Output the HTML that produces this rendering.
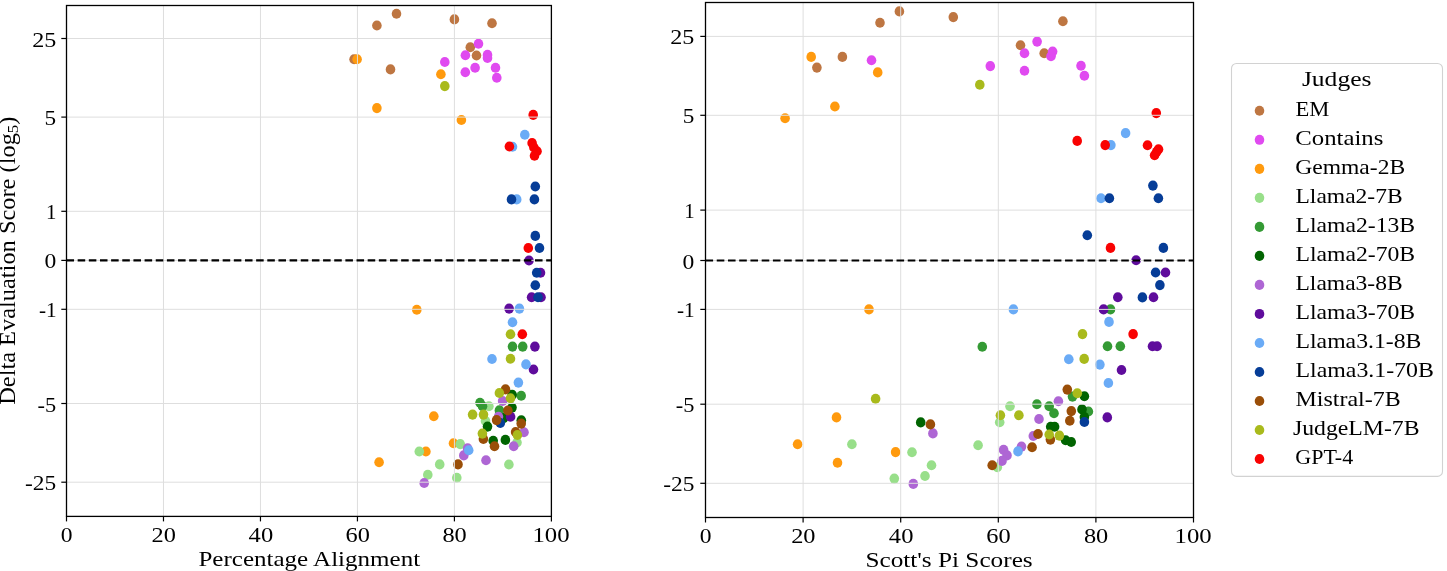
<!DOCTYPE html><html><head><meta charset="utf-8"><style>html,body{margin:0;padding:0;background:#fff;overflow:hidden}svg{will-change:transform}</style></head><body><svg width="1447" height="571" viewBox="0 0 1447 571" style="display:block">
<rect width="1447" height="571" fill="#fff"/>
<ellipse cx="396.5" cy="13.8" rx="4.8" ry="5.05" fill="#be7642"/>
<ellipse cx="376.9" cy="25.5" rx="4.8" ry="5.05" fill="#be7642"/>
<ellipse cx="454.4" cy="19.4" rx="4.8" ry="5.05" fill="#be7642"/>
<ellipse cx="492" cy="23.2" rx="4.8" ry="5.05" fill="#be7642"/>
<ellipse cx="470.3" cy="47.3" rx="4.8" ry="5.05" fill="#be7642"/>
<ellipse cx="476.5" cy="55.5" rx="4.8" ry="5.05" fill="#be7642"/>
<ellipse cx="390.5" cy="69.4" rx="4.8" ry="5.05" fill="#be7642"/>
<ellipse cx="354.1" cy="59.2" rx="4.8" ry="5.05" fill="#be7642"/>
<ellipse cx="478.5" cy="43.8" rx="4.8" ry="5.05" fill="#e04af0"/>
<ellipse cx="465.4" cy="55.2" rx="4.8" ry="5.05" fill="#e04af0"/>
<ellipse cx="487.5" cy="54.9" rx="4.8" ry="5.05" fill="#e04af0"/>
<ellipse cx="487.5" cy="58.0" rx="4.8" ry="5.05" fill="#e04af0"/>
<ellipse cx="444.8" cy="62" rx="4.8" ry="5.05" fill="#e04af0"/>
<ellipse cx="475.1" cy="67.8" rx="4.8" ry="5.05" fill="#e04af0"/>
<ellipse cx="495.5" cy="67.8" rx="4.8" ry="5.05" fill="#e04af0"/>
<ellipse cx="465.3" cy="72.3" rx="4.8" ry="5.05" fill="#e04af0"/>
<ellipse cx="496.8" cy="77.8" rx="4.8" ry="5.05" fill="#e04af0"/>
<ellipse cx="357.1" cy="59.2" rx="4.8" ry="5.05" fill="#ff9a0e"/>
<ellipse cx="440.9" cy="74.3" rx="4.8" ry="5.05" fill="#ff9a0e"/>
<ellipse cx="376.9" cy="108.1" rx="4.8" ry="5.05" fill="#ff9a0e"/>
<ellipse cx="461.4" cy="120" rx="4.8" ry="5.05" fill="#ff9a0e"/>
<ellipse cx="416.8" cy="309.7" rx="4.8" ry="5.05" fill="#ff9a0e"/>
<ellipse cx="433.8" cy="416.3" rx="4.8" ry="5.05" fill="#ff9a0e"/>
<ellipse cx="453.5" cy="443.2" rx="4.8" ry="5.05" fill="#ff9a0e"/>
<ellipse cx="425.9" cy="451.5" rx="4.8" ry="5.05" fill="#ff9a0e"/>
<ellipse cx="379.1" cy="462.2" rx="4.8" ry="5.05" fill="#ff9a0e"/>
<ellipse cx="488.9" cy="406.2" rx="4.8" ry="5.05" fill="#98df8a"/>
<ellipse cx="485.5" cy="421" rx="4.8" ry="5.05" fill="#98df8a"/>
<ellipse cx="517" cy="442.5" rx="4.8" ry="5.05" fill="#98df8a"/>
<ellipse cx="460.2" cy="444.1" rx="4.8" ry="5.05" fill="#98df8a"/>
<ellipse cx="419.3" cy="451.5" rx="4.8" ry="5.05" fill="#98df8a"/>
<ellipse cx="439.7" cy="464.4" rx="4.8" ry="5.05" fill="#98df8a"/>
<ellipse cx="508.9" cy="464.5" rx="4.8" ry="5.05" fill="#98df8a"/>
<ellipse cx="427.8" cy="474.7" rx="4.8" ry="5.05" fill="#98df8a"/>
<ellipse cx="456.8" cy="477.8" rx="4.8" ry="5.05" fill="#98df8a"/>
<ellipse cx="512.5" cy="346.6" rx="4.8" ry="5.05" fill="#349a34"/>
<ellipse cx="522.7" cy="346.6" rx="4.8" ry="5.05" fill="#349a34"/>
<ellipse cx="521.2" cy="395.8" rx="4.8" ry="5.05" fill="#349a34"/>
<ellipse cx="480" cy="402.7" rx="4.8" ry="5.05" fill="#349a34"/>
<ellipse cx="482.5" cy="406.2" rx="4.8" ry="5.05" fill="#349a34"/>
<ellipse cx="499.4" cy="410.4" rx="4.8" ry="5.05" fill="#349a34"/>
<ellipse cx="512.2" cy="394.7" rx="4.8" ry="5.05" fill="#016401"/>
<ellipse cx="512" cy="407.6" rx="4.8" ry="5.05" fill="#016401"/>
<ellipse cx="503.6" cy="418.1" rx="4.8" ry="5.05" fill="#016401"/>
<ellipse cx="521.3" cy="420.2" rx="4.8" ry="5.05" fill="#016401"/>
<ellipse cx="487.5" cy="426.6" rx="4.8" ry="5.05" fill="#016401"/>
<ellipse cx="505.4" cy="439.9" rx="4.8" ry="5.05" fill="#016401"/>
<ellipse cx="493.2" cy="440.8" rx="4.8" ry="5.05" fill="#016401"/>
<ellipse cx="502.6" cy="401" rx="4.8" ry="5.05" fill="#ae66d4"/>
<ellipse cx="498.5" cy="416.8" rx="4.8" ry="5.05" fill="#ae66d4"/>
<ellipse cx="524" cy="432.2" rx="4.8" ry="5.05" fill="#ae66d4"/>
<ellipse cx="513.7" cy="446.2" rx="4.8" ry="5.05" fill="#ae66d4"/>
<ellipse cx="467.6" cy="448.4" rx="4.8" ry="5.05" fill="#ae66d4"/>
<ellipse cx="463.8" cy="455.4" rx="4.8" ry="5.05" fill="#ae66d4"/>
<ellipse cx="486" cy="460.2" rx="4.8" ry="5.05" fill="#ae66d4"/>
<ellipse cx="424.2" cy="483" rx="4.8" ry="5.05" fill="#ae66d4"/>
<ellipse cx="529" cy="260.5" rx="4.8" ry="5.05" fill="#5f0c9c"/>
<ellipse cx="540.5" cy="272.7" rx="4.8" ry="5.05" fill="#5f0c9c"/>
<ellipse cx="541" cy="297.2" rx="4.8" ry="5.05" fill="#5f0c9c"/>
<ellipse cx="531.6" cy="297.2" rx="4.8" ry="5.05" fill="#5f0c9c"/>
<ellipse cx="509.1" cy="308.6" rx="4.8" ry="5.05" fill="#5f0c9c"/>
<ellipse cx="534.9" cy="346.6" rx="4.8" ry="5.05" fill="#5f0c9c"/>
<ellipse cx="533.5" cy="369.5" rx="4.8" ry="5.05" fill="#5f0c9c"/>
<ellipse cx="510.6" cy="416.7" rx="4.8" ry="5.05" fill="#5f0c9c"/>
<ellipse cx="524.8" cy="134.8" rx="4.8" ry="5.05" fill="#6aabf6"/>
<ellipse cx="512.5" cy="146.7" rx="4.8" ry="5.05" fill="#6aabf6"/>
<ellipse cx="516.7" cy="199.4" rx="4.8" ry="5.05" fill="#6aabf6"/>
<ellipse cx="519.4" cy="308.6" rx="4.8" ry="5.05" fill="#6aabf6"/>
<ellipse cx="512.5" cy="322.3" rx="4.8" ry="5.05" fill="#6aabf6"/>
<ellipse cx="492" cy="359" rx="4.8" ry="5.05" fill="#6aabf6"/>
<ellipse cx="526" cy="364.4" rx="4.8" ry="5.05" fill="#6aabf6"/>
<ellipse cx="518.4" cy="382.6" rx="4.8" ry="5.05" fill="#6aabf6"/>
<ellipse cx="468.7" cy="450.2" rx="4.8" ry="5.05" fill="#6aabf6"/>
<ellipse cx="535.3" cy="186.5" rx="4.8" ry="5.05" fill="#063d97"/>
<ellipse cx="511.5" cy="199.4" rx="4.8" ry="5.05" fill="#063d97"/>
<ellipse cx="534.4" cy="199.4" rx="4.8" ry="5.05" fill="#063d97"/>
<ellipse cx="535.3" cy="235.9" rx="4.8" ry="5.05" fill="#063d97"/>
<ellipse cx="539.5" cy="248" rx="4.8" ry="5.05" fill="#063d97"/>
<ellipse cx="536.7" cy="272.7" rx="4.8" ry="5.05" fill="#063d97"/>
<ellipse cx="535.3" cy="285.3" rx="4.8" ry="5.05" fill="#063d97"/>
<ellipse cx="538" cy="297.2" rx="4.8" ry="5.05" fill="#063d97"/>
<ellipse cx="500.3" cy="423" rx="4.8" ry="5.05" fill="#063d97"/>
<ellipse cx="505.5" cy="389.4" rx="4.8" ry="5.05" fill="#9a4e08"/>
<ellipse cx="507.9" cy="410.5" rx="4.8" ry="5.05" fill="#9a4e08"/>
<ellipse cx="496.6" cy="420.1" rx="4.8" ry="5.05" fill="#9a4e08"/>
<ellipse cx="521.2" cy="423.6" rx="4.8" ry="5.05" fill="#9a4e08"/>
<ellipse cx="515.6" cy="432" rx="4.8" ry="5.05" fill="#9a4e08"/>
<ellipse cx="483.4" cy="439" rx="4.8" ry="5.05" fill="#9a4e08"/>
<ellipse cx="494.5" cy="446.2" rx="4.8" ry="5.05" fill="#9a4e08"/>
<ellipse cx="458.0" cy="464.4" rx="4.8" ry="5.05" fill="#9a4e08"/>
<ellipse cx="444.8" cy="86.1" rx="4.8" ry="5.05" fill="#a9ba1c"/>
<ellipse cx="510.5" cy="334.2" rx="4.8" ry="5.05" fill="#a9ba1c"/>
<ellipse cx="510.5" cy="358.7" rx="4.8" ry="5.05" fill="#a9ba1c"/>
<ellipse cx="499.4" cy="393" rx="4.8" ry="5.05" fill="#a9ba1c"/>
<ellipse cx="510.5" cy="398.3" rx="4.8" ry="5.05" fill="#a9ba1c"/>
<ellipse cx="472.6" cy="414.6" rx="4.8" ry="5.05" fill="#a9ba1c"/>
<ellipse cx="483.5" cy="414.6" rx="4.8" ry="5.05" fill="#a9ba1c"/>
<ellipse cx="482.4" cy="433.6" rx="4.8" ry="5.05" fill="#a9ba1c"/>
<ellipse cx="517.4" cy="435" rx="4.8" ry="5.05" fill="#a9ba1c"/>
<ellipse cx="533.2" cy="114.9" rx="4.8" ry="5.05" fill="#f90202"/>
<ellipse cx="509.4" cy="146.5" rx="4.8" ry="5.05" fill="#f90202"/>
<ellipse cx="532.1" cy="143" rx="4.8" ry="5.05" fill="#f90202"/>
<ellipse cx="533.9" cy="147.5" rx="4.8" ry="5.05" fill="#f90202"/>
<ellipse cx="537" cy="151.3" rx="4.8" ry="5.05" fill="#f90202"/>
<ellipse cx="534.5" cy="155.7" rx="4.8" ry="5.05" fill="#f90202"/>
<ellipse cx="528.3" cy="248" rx="4.8" ry="5.05" fill="#f90202"/>
<ellipse cx="522.3" cy="334.2" rx="4.8" ry="5.05" fill="#f90202"/>
<line x1="66.50" y1="5.50" x2="66.50" y2="516.40" stroke="#dedede" stroke-width="1"/>
<line x1="163.48" y1="5.50" x2="163.48" y2="516.40" stroke="#dedede" stroke-width="1"/>
<line x1="260.46" y1="5.50" x2="260.46" y2="516.40" stroke="#dedede" stroke-width="1"/>
<line x1="357.44" y1="5.50" x2="357.44" y2="516.40" stroke="#dedede" stroke-width="1"/>
<line x1="454.42" y1="5.50" x2="454.42" y2="516.40" stroke="#dedede" stroke-width="1"/>
<line x1="551.40" y1="5.50" x2="551.40" y2="516.40" stroke="#dedede" stroke-width="1"/>
<line x1="66.50" y1="38.50" x2="551.40" y2="38.50" stroke="#dedede" stroke-width="1"/>
<line x1="66.50" y1="117.10" x2="551.40" y2="117.10" stroke="#dedede" stroke-width="1"/>
<line x1="66.50" y1="211.30" x2="551.40" y2="211.30" stroke="#dedede" stroke-width="1"/>
<line x1="66.50" y1="260.40" x2="551.40" y2="260.40" stroke="#dedede" stroke-width="1"/>
<line x1="66.50" y1="309.30" x2="551.40" y2="309.30" stroke="#dedede" stroke-width="1"/>
<line x1="66.50" y1="403.50" x2="551.40" y2="403.50" stroke="#dedede" stroke-width="1"/>
<line x1="66.50" y1="482.20" x2="551.40" y2="482.20" stroke="#dedede" stroke-width="1"/>
<line x1="66.50" y1="260.40" x2="551.40" y2="260.40" stroke="#000" stroke-width="2.1" stroke-dasharray="7.55 3.605"/>
<rect x="66.50" y="5.50" width="484.90" height="510.90" fill="none" stroke="#000" stroke-width="1.3"/>
<line x1="61.30" y1="38.50" x2="66.50" y2="38.50" stroke="#000" stroke-width="1.2"/>
<g font-family="Liberation Serif, serif" font-size="20.0" fill="#000" stroke="#000" stroke-width="0">
<text transform="translate(32.13,46.50) scale(1.2065,1.0769)">25</text>
</g>
<line x1="61.30" y1="117.10" x2="66.50" y2="117.10" stroke="#000" stroke-width="1.2"/>
<g font-family="Liberation Serif, serif" font-size="20.0" fill="#000" stroke="#000" stroke-width="0">
<text transform="translate(44.60,125.10) scale(1.1625,1.0769)">5</text>
</g>
<line x1="61.30" y1="211.30" x2="66.50" y2="211.30" stroke="#000" stroke-width="1.2"/>
<g font-family="Liberation Serif, serif" font-size="20.0" fill="#000" stroke="#000" stroke-width="0">
<text transform="translate(46.12,219.30) scale(1.0429,1.0769)">1</text>
</g>
<line x1="61.30" y1="260.40" x2="66.50" y2="260.40" stroke="#000" stroke-width="1.2"/>
<g font-family="Liberation Serif, serif" font-size="20.0" fill="#000" stroke="#000" stroke-width="0">
<text transform="translate(44.46,268.40) scale(1.1786,1.0769)">0</text>
</g>
<line x1="61.30" y1="309.30" x2="66.50" y2="309.30" stroke="#000" stroke-width="1.2"/>
<g font-family="Liberation Serif, serif" font-size="20.0" fill="#000" stroke="#000" stroke-width="0">
<text transform="translate(38.95,317.30) scale(1.0616,1.0769)">-1</text>
</g>
<line x1="61.30" y1="403.50" x2="66.50" y2="403.50" stroke="#000" stroke-width="1.2"/>
<g font-family="Liberation Serif, serif" font-size="20.0" fill="#000" stroke="#000" stroke-width="0">
<text transform="translate(37.60,411.50) scale(1.1200,1.0769)">-5</text>
</g>
<line x1="61.30" y1="482.20" x2="66.50" y2="482.20" stroke="#000" stroke-width="1.2"/>
<g font-family="Liberation Serif, serif" font-size="20.0" fill="#000" stroke="#000" stroke-width="0">
<text transform="translate(25.06,490.20) scale(1.1720,1.0769)">-25</text>
</g>
<line x1="66.50" y1="516.40" x2="66.50" y2="521.40" stroke="#000" stroke-width="1.2"/>
<g font-family="Liberation Serif, serif" font-size="20.0" fill="#000" stroke="#000" stroke-width="0">
<text transform="translate(60.81,541.50) scale(1.1786,1.0769)">0</text>
</g>
<line x1="163.48" y1="516.40" x2="163.48" y2="521.40" stroke="#000" stroke-width="1.2"/>
<g font-family="Liberation Serif, serif" font-size="20.0" fill="#000" stroke="#000" stroke-width="0">
<text transform="translate(151.51,541.50) scale(1.2174,1.0769)">20</text>
</g>
<line x1="260.46" y1="516.40" x2="260.46" y2="521.40" stroke="#000" stroke-width="1.2"/>
<g font-family="Liberation Serif, serif" font-size="20.0" fill="#000" stroke="#000" stroke-width="0">
<text transform="translate(248.62,541.50) scale(1.2287,1.0769)">40</text>
</g>
<line x1="357.44" y1="516.40" x2="357.44" y2="521.40" stroke="#000" stroke-width="1.2"/>
<g font-family="Liberation Serif, serif" font-size="20.0" fill="#000" stroke="#000" stroke-width="0">
<text transform="translate(345.47,541.50) scale(1.2174,1.0769)">60</text>
</g>
<line x1="454.42" y1="516.40" x2="454.42" y2="521.40" stroke="#000" stroke-width="1.2"/>
<g font-family="Liberation Serif, serif" font-size="20.0" fill="#000" stroke="#000" stroke-width="0">
<text transform="translate(442.45,541.50) scale(1.2174,1.0769)">80</text>
</g>
<line x1="551.40" y1="516.40" x2="551.40" y2="521.40" stroke="#000" stroke-width="1.2"/>
<g font-family="Liberation Serif, serif" font-size="20.0" fill="#000" stroke="#000" stroke-width="0">
<text transform="translate(532.42,541.50) scale(1.2372,1.0769)">100</text>
</g>
<g font-family="Liberation Serif, serif" font-size="20.0" fill="#000" stroke="#000" stroke-width="0">
<text transform="translate(198.40,565.70) scale(1.2523,1.0769)">Percentage Alignment</text>
</g>
<ellipse cx="880" cy="22.8" rx="4.8" ry="5.05" fill="#be7642"/>
<ellipse cx="899.4" cy="11.4" rx="4.8" ry="5.05" fill="#be7642"/>
<ellipse cx="953.3" cy="17.1" rx="4.8" ry="5.05" fill="#be7642"/>
<ellipse cx="1062.9" cy="21.2" rx="4.8" ry="5.05" fill="#be7642"/>
<ellipse cx="1020.5" cy="45.2" rx="4.8" ry="5.05" fill="#be7642"/>
<ellipse cx="1044.2" cy="53.3" rx="4.8" ry="5.05" fill="#be7642"/>
<ellipse cx="842.4" cy="56.9" rx="4.8" ry="5.05" fill="#be7642"/>
<ellipse cx="816.9" cy="67.6" rx="4.8" ry="5.05" fill="#be7642"/>
<ellipse cx="871.5" cy="60.3" rx="4.8" ry="5.05" fill="#e04af0"/>
<ellipse cx="1037.1" cy="41.6" rx="4.8" ry="5.05" fill="#e04af0"/>
<ellipse cx="1024.5" cy="53.3" rx="4.8" ry="5.05" fill="#e04af0"/>
<ellipse cx="1052.6" cy="51.6" rx="4.8" ry="5.05" fill="#e04af0"/>
<ellipse cx="1051" cy="56.3" rx="4.8" ry="5.05" fill="#e04af0"/>
<ellipse cx="990.3" cy="66.1" rx="4.8" ry="5.05" fill="#e04af0"/>
<ellipse cx="1024.5" cy="70.8" rx="4.8" ry="5.05" fill="#e04af0"/>
<ellipse cx="1081" cy="65.8" rx="4.8" ry="5.05" fill="#e04af0"/>
<ellipse cx="1084.4" cy="75.7" rx="4.8" ry="5.05" fill="#e04af0"/>
<ellipse cx="811.2" cy="56.9" rx="4.8" ry="5.05" fill="#ff9a0e"/>
<ellipse cx="877.7" cy="72.4" rx="4.8" ry="5.05" fill="#ff9a0e"/>
<ellipse cx="834.9" cy="106.5" rx="4.8" ry="5.05" fill="#ff9a0e"/>
<ellipse cx="785.1" cy="118.3" rx="4.8" ry="5.05" fill="#ff9a0e"/>
<ellipse cx="869" cy="309.4" rx="4.8" ry="5.05" fill="#ff9a0e"/>
<ellipse cx="836.5" cy="417.4" rx="4.8" ry="5.05" fill="#ff9a0e"/>
<ellipse cx="797.6" cy="444.3" rx="4.8" ry="5.05" fill="#ff9a0e"/>
<ellipse cx="895.6" cy="452.1" rx="4.8" ry="5.05" fill="#ff9a0e"/>
<ellipse cx="837.5" cy="462.8" rx="4.8" ry="5.05" fill="#ff9a0e"/>
<ellipse cx="1010" cy="406.3" rx="4.8" ry="5.05" fill="#98df8a"/>
<ellipse cx="999.7" cy="422.3" rx="4.8" ry="5.05" fill="#98df8a"/>
<ellipse cx="978.1" cy="445.2" rx="4.8" ry="5.05" fill="#98df8a"/>
<ellipse cx="997.3" cy="467.2" rx="4.8" ry="5.05" fill="#98df8a"/>
<ellipse cx="851.9" cy="444.3" rx="4.8" ry="5.05" fill="#98df8a"/>
<ellipse cx="912" cy="452.2" rx="4.8" ry="5.05" fill="#98df8a"/>
<ellipse cx="931.5" cy="465.3" rx="4.8" ry="5.05" fill="#98df8a"/>
<ellipse cx="925" cy="476" rx="4.8" ry="5.05" fill="#98df8a"/>
<ellipse cx="894.3" cy="478.6" rx="4.8" ry="5.05" fill="#98df8a"/>
<ellipse cx="1110.5" cy="309.4" rx="4.8" ry="5.05" fill="#349a34"/>
<ellipse cx="1107.5" cy="346.3" rx="4.8" ry="5.05" fill="#349a34"/>
<ellipse cx="1120.3" cy="346.3" rx="4.8" ry="5.05" fill="#349a34"/>
<ellipse cx="982.3" cy="346.8" rx="4.8" ry="5.05" fill="#349a34"/>
<ellipse cx="1072.5" cy="396.6" rx="4.8" ry="5.05" fill="#349a34"/>
<ellipse cx="1036.9" cy="404.3" rx="4.8" ry="5.05" fill="#349a34"/>
<ellipse cx="1049.2" cy="406.2" rx="4.8" ry="5.05" fill="#349a34"/>
<ellipse cx="1054" cy="413.2" rx="4.8" ry="5.05" fill="#349a34"/>
<ellipse cx="1088.4" cy="411.5" rx="4.8" ry="5.05" fill="#349a34"/>
<ellipse cx="1084.4" cy="396.2" rx="4.8" ry="5.05" fill="#016401"/>
<ellipse cx="1082" cy="409.4" rx="4.8" ry="5.05" fill="#016401"/>
<ellipse cx="1084.4" cy="417.1" rx="4.8" ry="5.05" fill="#016401"/>
<ellipse cx="1050.7" cy="426.8" rx="4.8" ry="5.05" fill="#016401"/>
<ellipse cx="1054.6" cy="426.8" rx="4.8" ry="5.05" fill="#016401"/>
<ellipse cx="1065.6" cy="440.3" rx="4.8" ry="5.05" fill="#016401"/>
<ellipse cx="1071.2" cy="442" rx="4.8" ry="5.05" fill="#016401"/>
<ellipse cx="920.7" cy="422.4" rx="4.8" ry="5.05" fill="#016401"/>
<ellipse cx="1058.4" cy="401.3" rx="4.8" ry="5.05" fill="#ae66d4"/>
<ellipse cx="1039" cy="419" rx="4.8" ry="5.05" fill="#ae66d4"/>
<ellipse cx="1033.3" cy="436" rx="4.8" ry="5.05" fill="#ae66d4"/>
<ellipse cx="1021.5" cy="446.6" rx="4.8" ry="5.05" fill="#ae66d4"/>
<ellipse cx="1003.6" cy="449.9" rx="4.8" ry="5.05" fill="#ae66d4"/>
<ellipse cx="1007" cy="455.4" rx="4.8" ry="5.05" fill="#ae66d4"/>
<ellipse cx="1002" cy="460.9" rx="4.8" ry="5.05" fill="#ae66d4"/>
<ellipse cx="932.9" cy="433.4" rx="4.8" ry="5.05" fill="#ae66d4"/>
<ellipse cx="913.3" cy="483.9" rx="4.8" ry="5.05" fill="#ae66d4"/>
<ellipse cx="1136.1" cy="260.3" rx="4.8" ry="5.05" fill="#5f0c9c"/>
<ellipse cx="1165.5" cy="272.5" rx="4.8" ry="5.05" fill="#5f0c9c"/>
<ellipse cx="1117.8" cy="297.3" rx="4.8" ry="5.05" fill="#5f0c9c"/>
<ellipse cx="1153.5" cy="297.3" rx="4.8" ry="5.05" fill="#5f0c9c"/>
<ellipse cx="1103.6" cy="309.4" rx="4.8" ry="5.05" fill="#5f0c9c"/>
<ellipse cx="1152.5" cy="346.3" rx="4.8" ry="5.05" fill="#5f0c9c"/>
<ellipse cx="1157.1" cy="346.3" rx="4.8" ry="5.05" fill="#5f0c9c"/>
<ellipse cx="1121.5" cy="370" rx="4.8" ry="5.05" fill="#5f0c9c"/>
<ellipse cx="1107.3" cy="417.4" rx="4.8" ry="5.05" fill="#5f0c9c"/>
<ellipse cx="1125.6" cy="133.1" rx="4.8" ry="5.05" fill="#6aabf6"/>
<ellipse cx="1110.9" cy="145.1" rx="4.8" ry="5.05" fill="#6aabf6"/>
<ellipse cx="1101" cy="198.3" rx="4.8" ry="5.05" fill="#6aabf6"/>
<ellipse cx="1109" cy="321.9" rx="4.8" ry="5.05" fill="#6aabf6"/>
<ellipse cx="1013.4" cy="309.4" rx="4.8" ry="5.05" fill="#6aabf6"/>
<ellipse cx="1068.8" cy="359.2" rx="4.8" ry="5.05" fill="#6aabf6"/>
<ellipse cx="1099.9" cy="364.6" rx="4.8" ry="5.05" fill="#6aabf6"/>
<ellipse cx="1108.4" cy="383" rx="4.8" ry="5.05" fill="#6aabf6"/>
<ellipse cx="1018" cy="451.4" rx="4.8" ry="5.05" fill="#6aabf6"/>
<ellipse cx="1152.9" cy="185.6" rx="4.8" ry="5.05" fill="#063d97"/>
<ellipse cx="1109.4" cy="198.3" rx="4.8" ry="5.05" fill="#063d97"/>
<ellipse cx="1158.4" cy="198.3" rx="4.8" ry="5.05" fill="#063d97"/>
<ellipse cx="1087.3" cy="235.3" rx="4.8" ry="5.05" fill="#063d97"/>
<ellipse cx="1163.4" cy="247.9" rx="4.8" ry="5.05" fill="#063d97"/>
<ellipse cx="1155.6" cy="272.5" rx="4.8" ry="5.05" fill="#063d97"/>
<ellipse cx="1159.9" cy="285.1" rx="4.8" ry="5.05" fill="#063d97"/>
<ellipse cx="1142.4" cy="297.4" rx="4.8" ry="5.05" fill="#063d97"/>
<ellipse cx="1084.4" cy="422" rx="4.8" ry="5.05" fill="#063d97"/>
<ellipse cx="1067.3" cy="389.6" rx="4.8" ry="5.05" fill="#9a4e08"/>
<ellipse cx="1071.3" cy="411.1" rx="4.8" ry="5.05" fill="#9a4e08"/>
<ellipse cx="1069.8" cy="420.8" rx="4.8" ry="5.05" fill="#9a4e08"/>
<ellipse cx="1038" cy="434" rx="4.8" ry="5.05" fill="#9a4e08"/>
<ellipse cx="1050.4" cy="439.6" rx="4.8" ry="5.05" fill="#9a4e08"/>
<ellipse cx="1032.1" cy="447.3" rx="4.8" ry="5.05" fill="#9a4e08"/>
<ellipse cx="992.2" cy="465.3" rx="4.8" ry="5.05" fill="#9a4e08"/>
<ellipse cx="930.4" cy="424.4" rx="4.8" ry="5.05" fill="#9a4e08"/>
<ellipse cx="979.8" cy="84.7" rx="4.8" ry="5.05" fill="#a9ba1c"/>
<ellipse cx="1082.5" cy="334.1" rx="4.8" ry="5.05" fill="#a9ba1c"/>
<ellipse cx="1084.2" cy="358.9" rx="4.8" ry="5.05" fill="#a9ba1c"/>
<ellipse cx="875.6" cy="398.7" rx="4.8" ry="5.05" fill="#a9ba1c"/>
<ellipse cx="1077.3" cy="393.3" rx="4.8" ry="5.05" fill="#a9ba1c"/>
<ellipse cx="1000.4" cy="415.2" rx="4.8" ry="5.05" fill="#a9ba1c"/>
<ellipse cx="1018.9" cy="415.2" rx="4.8" ry="5.05" fill="#a9ba1c"/>
<ellipse cx="1049.2" cy="434.5" rx="4.8" ry="5.05" fill="#a9ba1c"/>
<ellipse cx="1059.4" cy="435.6" rx="4.8" ry="5.05" fill="#a9ba1c"/>
<ellipse cx="1156.3" cy="113.1" rx="4.8" ry="5.05" fill="#f90202"/>
<ellipse cx="1077.2" cy="140.9" rx="4.8" ry="5.05" fill="#f90202"/>
<ellipse cx="1105.2" cy="145.1" rx="4.8" ry="5.05" fill="#f90202"/>
<ellipse cx="1147.5" cy="145.3" rx="4.8" ry="5.05" fill="#f90202"/>
<ellipse cx="1158.5" cy="149.3" rx="4.8" ry="5.05" fill="#f90202"/>
<ellipse cx="1156.7" cy="151.7" rx="4.8" ry="5.05" fill="#f90202"/>
<ellipse cx="1154.6" cy="155.2" rx="4.8" ry="5.05" fill="#f90202"/>
<ellipse cx="1110.5" cy="247.9" rx="4.8" ry="5.05" fill="#f90202"/>
<ellipse cx="1133.1" cy="334.1" rx="4.8" ry="5.05" fill="#f90202"/>
<line x1="705.50" y1="2.50" x2="705.50" y2="517.50" stroke="#dedede" stroke-width="1"/>
<line x1="803.10" y1="2.50" x2="803.10" y2="517.50" stroke="#dedede" stroke-width="1"/>
<line x1="900.70" y1="2.50" x2="900.70" y2="517.50" stroke="#dedede" stroke-width="1"/>
<line x1="998.30" y1="2.50" x2="998.30" y2="517.50" stroke="#dedede" stroke-width="1"/>
<line x1="1095.90" y1="2.50" x2="1095.90" y2="517.50" stroke="#dedede" stroke-width="1"/>
<line x1="1193.50" y1="2.50" x2="1193.50" y2="517.50" stroke="#dedede" stroke-width="1"/>
<line x1="705.50" y1="36.40" x2="1193.50" y2="36.40" stroke="#dedede" stroke-width="1"/>
<line x1="705.50" y1="115.30" x2="1193.50" y2="115.30" stroke="#dedede" stroke-width="1"/>
<line x1="705.50" y1="210.10" x2="1193.50" y2="210.10" stroke="#dedede" stroke-width="1"/>
<line x1="705.50" y1="260.50" x2="1193.50" y2="260.50" stroke="#dedede" stroke-width="1"/>
<line x1="705.50" y1="309.40" x2="1193.50" y2="309.40" stroke="#dedede" stroke-width="1"/>
<line x1="705.50" y1="404.20" x2="1193.50" y2="404.20" stroke="#dedede" stroke-width="1"/>
<line x1="705.50" y1="483.30" x2="1193.50" y2="483.30" stroke="#dedede" stroke-width="1"/>
<line x1="705.50" y1="260.50" x2="1193.50" y2="260.50" stroke="#000" stroke-width="2.1" stroke-dasharray="7.6 3.636"/>
<rect x="705.50" y="2.50" width="488.00" height="515.00" fill="none" stroke="#000" stroke-width="1.3"/>
<line x1="700.30" y1="36.40" x2="705.50" y2="36.40" stroke="#000" stroke-width="1.2"/>
<g font-family="Liberation Serif, serif" font-size="20.0" fill="#000" stroke="#000" stroke-width="0">
<text transform="translate(670.23,44.40) scale(1.2065,1.0769)">25</text>
</g>
<line x1="700.30" y1="115.30" x2="705.50" y2="115.30" stroke="#000" stroke-width="1.2"/>
<g font-family="Liberation Serif, serif" font-size="20.0" fill="#000" stroke="#000" stroke-width="0">
<text transform="translate(682.71,123.30) scale(1.1625,1.0769)">5</text>
</g>
<line x1="700.30" y1="210.10" x2="705.50" y2="210.10" stroke="#000" stroke-width="1.2"/>
<g font-family="Liberation Serif, serif" font-size="20.0" fill="#000" stroke="#000" stroke-width="0">
<text transform="translate(684.22,218.10) scale(1.0429,1.0769)">1</text>
</g>
<line x1="700.30" y1="260.50" x2="705.50" y2="260.50" stroke="#000" stroke-width="1.2"/>
<g font-family="Liberation Serif, serif" font-size="20.0" fill="#000" stroke="#000" stroke-width="0">
<text transform="translate(682.56,268.50) scale(1.1786,1.0769)">0</text>
</g>
<line x1="700.30" y1="309.40" x2="705.50" y2="309.40" stroke="#000" stroke-width="1.2"/>
<g font-family="Liberation Serif, serif" font-size="20.0" fill="#000" stroke="#000" stroke-width="0">
<text transform="translate(677.05,317.40) scale(1.0616,1.0769)">-1</text>
</g>
<line x1="700.30" y1="404.20" x2="705.50" y2="404.20" stroke="#000" stroke-width="1.2"/>
<g font-family="Liberation Serif, serif" font-size="20.0" fill="#000" stroke="#000" stroke-width="0">
<text transform="translate(675.70,412.20) scale(1.1200,1.0769)">-5</text>
</g>
<line x1="700.30" y1="483.30" x2="705.50" y2="483.30" stroke="#000" stroke-width="1.2"/>
<g font-family="Liberation Serif, serif" font-size="20.0" fill="#000" stroke="#000" stroke-width="0">
<text transform="translate(663.16,491.30) scale(1.1720,1.0769)">-25</text>
</g>
<line x1="705.50" y1="517.50" x2="705.50" y2="522.50" stroke="#000" stroke-width="1.2"/>
<g font-family="Liberation Serif, serif" font-size="20.0" fill="#000" stroke="#000" stroke-width="0">
<text transform="translate(699.81,542.90) scale(1.1786,1.0769)">0</text>
</g>
<line x1="803.10" y1="517.50" x2="803.10" y2="522.50" stroke="#000" stroke-width="1.2"/>
<g font-family="Liberation Serif, serif" font-size="20.0" fill="#000" stroke="#000" stroke-width="0">
<text transform="translate(791.13,542.90) scale(1.2174,1.0769)">20</text>
</g>
<line x1="900.70" y1="517.50" x2="900.70" y2="522.50" stroke="#000" stroke-width="1.2"/>
<g font-family="Liberation Serif, serif" font-size="20.0" fill="#000" stroke="#000" stroke-width="0">
<text transform="translate(888.86,542.90) scale(1.2287,1.0769)">40</text>
</g>
<line x1="998.30" y1="517.50" x2="998.30" y2="522.50" stroke="#000" stroke-width="1.2"/>
<g font-family="Liberation Serif, serif" font-size="20.0" fill="#000" stroke="#000" stroke-width="0">
<text transform="translate(986.33,542.90) scale(1.2174,1.0769)">60</text>
</g>
<line x1="1095.90" y1="517.50" x2="1095.90" y2="522.50" stroke="#000" stroke-width="1.2"/>
<g font-family="Liberation Serif, serif" font-size="20.0" fill="#000" stroke="#000" stroke-width="0">
<text transform="translate(1083.93,542.90) scale(1.2174,1.0769)">80</text>
</g>
<line x1="1193.50" y1="517.50" x2="1193.50" y2="522.50" stroke="#000" stroke-width="1.2"/>
<g font-family="Liberation Serif, serif" font-size="20.0" fill="#000" stroke="#000" stroke-width="0">
<text transform="translate(1174.52,542.90) scale(1.2372,1.0769)">100</text>
</g>
<g font-family="Liberation Serif, serif" font-size="20.0" fill="#000" stroke="#000" stroke-width="0">
<text transform="translate(865.38,567.10) scale(1.2630,1.0769)">Scott&#39;s Pi Scores</text>
</g>
<g font-family="Liberation Serif, serif" font-size="20.0" fill="#000" stroke="#000" stroke-width="0" transform="translate(14.7,404.8) rotate(-90) scale(1.2204,1.108)"><text x="0" y="0">Delta Evaluation Score (log<tspan font-size="14" dy="3">5</tspan><tspan dy="-3">)</tspan></text></g>
<rect x="1231.5" y="63.5" width="211" height="412.9" rx="5" ry="5" fill="#fff" stroke="#d2d2d2" stroke-width="1.1"/>
<g font-family="Liberation Serif, serif" font-size="20.0" fill="#000" stroke="#000" stroke-width="0">
<text transform="translate(1301.89,86.00) scale(1.2790,1.0769)">Judges</text>
</g>
<ellipse cx="1259.5" cy="110.80" rx="4.8" ry="5.05" fill="#be7642"/>
<g font-family="Liberation Serif, serif" font-size="20.0" fill="#000" stroke="#000" stroke-width="0">
<text transform="translate(1295.52,116.00) scale(1.1285,1.0769)">EM</text>
</g>
<ellipse cx="1259.5" cy="139.82" rx="4.8" ry="5.05" fill="#e04af0"/>
<g font-family="Liberation Serif, serif" font-size="20.0" fill="#000" stroke="#000" stroke-width="0">
<text transform="translate(1295.21,145.02) scale(1.2399,1.0769)">Contains</text>
</g>
<ellipse cx="1259.5" cy="168.84" rx="4.8" ry="5.05" fill="#ff9a0e"/>
<g font-family="Liberation Serif, serif" font-size="20.0" fill="#000" stroke="#000" stroke-width="0">
<text transform="translate(1295.26,174.04) scale(1.1779,1.0769)">Gemma-2B</text>
</g>
<ellipse cx="1259.5" cy="197.86" rx="4.8" ry="5.05" fill="#98df8a"/>
<g font-family="Liberation Serif, serif" font-size="20.0" fill="#000" stroke="#000" stroke-width="0">
<text transform="translate(1295.49,203.06) scale(1.1775,1.0769)">Llama2-7B</text>
</g>
<ellipse cx="1259.5" cy="226.88" rx="4.8" ry="5.05" fill="#349a34"/>
<g font-family="Liberation Serif, serif" font-size="20.0" fill="#000" stroke="#000" stroke-width="0">
<text transform="translate(1295.49,232.08) scale(1.1847,1.0769)">Llama2-13B</text>
</g>
<ellipse cx="1259.5" cy="255.90" rx="4.8" ry="5.05" fill="#016401"/>
<g font-family="Liberation Serif, serif" font-size="20.0" fill="#000" stroke="#000" stroke-width="0">
<text transform="translate(1295.49,261.10) scale(1.1847,1.0769)">Llama2-70B</text>
</g>
<ellipse cx="1259.5" cy="284.92" rx="4.8" ry="5.05" fill="#ae66d4"/>
<g font-family="Liberation Serif, serif" font-size="20.0" fill="#000" stroke="#000" stroke-width="0">
<text transform="translate(1295.49,290.12) scale(1.1775,1.0769)">Llama3-8B</text>
</g>
<ellipse cx="1259.5" cy="313.94" rx="4.8" ry="5.05" fill="#5f0c9c"/>
<g font-family="Liberation Serif, serif" font-size="20.0" fill="#000" stroke="#000" stroke-width="0">
<text transform="translate(1295.49,319.14) scale(1.1847,1.0769)">Llama3-70B</text>
</g>
<ellipse cx="1259.5" cy="342.96" rx="4.8" ry="5.05" fill="#6aabf6"/>
<g font-family="Liberation Serif, serif" font-size="20.0" fill="#000" stroke="#000" stroke-width="0">
<text transform="translate(1295.49,348.16) scale(1.1883,1.0769)">Llama3.1-8B</text>
</g>
<ellipse cx="1259.5" cy="371.98" rx="4.8" ry="5.05" fill="#063d97"/>
<g font-family="Liberation Serif, serif" font-size="20.0" fill="#000" stroke="#000" stroke-width="0">
<text transform="translate(1295.48,377.18) scale(1.1937,1.0769)">Llama3.1-70B</text>
</g>
<ellipse cx="1259.5" cy="401.00" rx="4.8" ry="5.05" fill="#9a4e08"/>
<g font-family="Liberation Serif, serif" font-size="20.0" fill="#000" stroke="#000" stroke-width="0">
<text transform="translate(1295.38,406.20) scale(1.2007,1.0769)">Mistral-7B</text>
</g>
<ellipse cx="1259.5" cy="430.02" rx="4.8" ry="5.05" fill="#a9ba1c"/>
<g font-family="Liberation Serif, serif" font-size="20.0" fill="#000" stroke="#000" stroke-width="0">
<text transform="translate(1292.93,435.22) scale(1.1873,1.0769)">JudgeLM-7B</text>
</g>
<ellipse cx="1259.5" cy="459.04" rx="4.8" ry="5.05" fill="#f90202"/>
<g font-family="Liberation Serif, serif" font-size="20.0" fill="#000" stroke="#000" stroke-width="0">
<text transform="translate(1295.32,464.24) scale(1.1012,1.0769)">GPT-4</text>
</g>
</svg></body></html>
